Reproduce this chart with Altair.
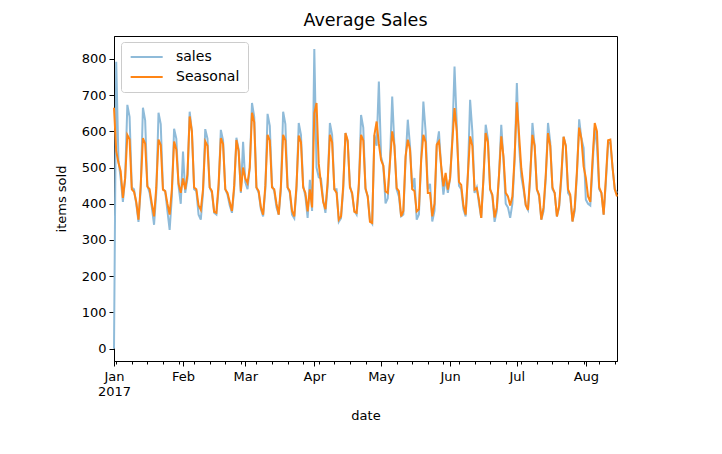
import altair as alt
import pandas as pd

# daily values, 2017-01-01 .. 2017-08-15 (one row per week: Sun..Sat)
sales = [
    0, 792, 520, 470, 405, 470, 673,
    640, 445, 440, 400, 350, 440, 665,
    630, 450, 430, 390, 342, 430, 651,
    620, 440, 435, 380, 328, 420, 607,
    580, 450, 400, 544, 430, 470, 654,
    600, 440, 435, 370, 356, 430, 606,
    580, 445, 430, 375, 370, 440, 604,
    575, 440, 425, 395, 375, 440, 582,
    550, 430, 571, 460, 440, 500, 678,
    640, 445, 430, 385, 365, 440, 648,
    615, 450, 435, 390, 370, 440, 654,
    620, 445, 430, 370, 360, 440, 623,
    590, 450, 420, 361, 466, 380, 827,
    500, 473, 470, 410, 375, 450, 623,
    590, 440, 440, 350, 360, 440, 595,
    570, 450, 425, 380, 370, 440, 645,
    610, 440, 420, 355, 345, 590, 560,
    737, 530, 505, 401, 415, 520, 696,
    560, 440, 420, 365, 370, 520, 632,
    560, 440, 471, 356, 370, 520, 682,
    600, 440, 455, 351, 380, 558, 600,
    500, 425, 470, 430, 470, 580, 779,
    620, 450, 440, 385, 365, 480, 687,
    600, 430, 445, 400, 361, 470, 618,
    580, 440, 420, 350, 380, 480, 618,
    520, 400, 390, 361, 400, 520, 733,
    560, 475, 440, 395, 383, 470, 623,
    560, 440, 420, 356, 380, 470, 623,
    570, 440, 430, 365, 390, 470, 585,
    560, 430, 420, 351, 380, 480, 633,
    580, 554, 411, 400, 395, 500, 610,
    560, 440, 430, 370, 460, 565, 570,
    500, 440, 430,
]
seasonal = [
    665, 545, 513, 490, 416, 470, 590,
    578, 440, 433, 405, 356, 450, 581,
    566, 447, 440, 400, 365, 445, 577,
    562, 439, 435, 400, 370, 440, 572,
    550, 455, 430, 470, 440, 480, 641,
    600, 445, 440, 395, 383, 440, 572,
    560, 445, 435, 378, 375, 455, 581,
    565, 440, 430, 405, 380, 450, 576,
    545, 434, 500, 470, 457, 500, 651,
    625, 445, 435, 390, 370, 450, 590,
    575, 445, 440, 400, 370, 450, 590,
    575, 445, 435, 380, 365, 450, 588,
    570, 445, 430, 379, 440, 390, 650,
    678, 510, 455, 405, 385, 460, 590,
    570, 440, 430, 356, 365, 450, 595,
    575, 445, 430, 378, 375, 455, 590,
    575, 443, 420, 350, 347, 590, 627,
    565, 521, 505, 434, 430, 515, 600,
    560, 443, 435, 365, 380, 530, 577,
    550, 440, 435, 379, 385, 520, 590,
    570, 430, 430, 365, 400, 563, 572,
    505, 448, 485, 439, 470, 570, 664,
    600, 460, 452, 395, 370, 480, 586,
    560, 439, 443, 410, 361, 470, 595,
    570, 440, 425, 362, 390, 480, 586,
    530, 430, 420, 395, 420, 530, 680,
    590, 498, 450, 397, 383, 480, 590,
    560, 440, 425, 356, 390, 480, 595,
    560, 445, 430, 365, 395, 480, 585,
    560, 440, 425, 351, 390, 490, 610,
    580, 503, 471, 420, 405, 520, 623,
    600, 445, 430, 370, 470, 575, 577,
    500, 440, 420,
]

series_names = ["sales", "Seasonal"]
series_colors = ["#8fbbd9", "#ff8515"]
y_ticks = [0, 100, 200, 300, 400, 500, 600, 700, 800]
start_date = "2017-01-01"
end_date = "2017-08-15"

n = len(sales)
date_strings = list(pd.date_range(start_date, periods=n, freq="D").strftime("%Y-%m-%d"))
df = pd.DataFrame({
    "date": date_strings * 2,
    "value": sales + seasonal,
    "series": [series_names[0]] * n + [series_names[1]] * n,
})


def dt(ts):
    return alt.DateTime(year=ts.year, month=ts.month, date=ts.day, utc=True)


major_ticks = [dt(t) for t in pd.date_range(start_date, end_date, freq="MS")]
minor_ticks = [dt(t) for t in pd.date_range("2017-01-02", end_date, freq="7D")]

x_scale = alt.Scale(type="utc", domain=[dt(pd.Timestamp(start_date)), dt(pd.Timestamp(end_date))], nice=False)
y_scale = alt.Scale(domain=[-34, 863], nice=False, zero=False)

x_major = alt.X(
    "date:T",
    scale=x_scale,
    axis=alt.Axis(
        values=major_ticks,
        labelExpr="utcmonth(datum.value) == 0 ? ['Jan', '2017'] : utcFormat(datum.value, '%b')",
        title="date",
        orient="bottom",
        tickSize=5,
        labelPadding=4,
        titlePadding=11,
        labelAngle=0,
        labelFlush=False,
        labelOverlap=False,
    ),
)
x_none = alt.X("date:T", scale=x_scale, axis=None)
x_minor = alt.X(
    "date:T",
    scale=x_scale,
    axis=alt.Axis(
        values=minor_ticks,
        labels=False,
        title=None,
        orient="bottom",
        tickSize=3,
        domain=False,
    ),
)
y_enc = alt.Y(
    "value:Q",
    scale=y_scale,
    axis=alt.Axis(values=y_ticks, title="items sold", tickSize=5, labelPadding=3, titlePadding=13),
)
color_enc = alt.Color(
    "series:N",
    scale=alt.Scale(domain=series_names, range=series_colors),
    sort=series_names,
    legend=alt.Legend(
        title=None,
        orient="none",
        legendX=7,
        legendY=6,
        symbolType="M-1,0H5",
        symbolSize=114,
        symbolStrokeWidth=2,
        symbolOpacity=1,
        labelOffset=33,
        labelFontSize=14,
        labelFont="DejaVu Sans",
        labelColor="black",
        padding=8,
        rowPadding=6,
        strokeColor="#cccccc",
        fillColor="rgba(255,255,255,0.8)",
        cornerRadius=3,
    ),
)

base = alt.Chart(df)
line_sales = base.transform_filter(alt.datum.series == series_names[0]).mark_line(strokeWidth=2).encode(
    x=x_major, y=y_enc, color=color_enc
)
line_seasonal = base.transform_filter(alt.datum.series == series_names[1]).mark_line(strokeWidth=2).encode(
    x=x_none, y=y_enc, color=color_enc
)
minor_layer = base.transform_filter(alt.datum.series == series_names[0]).mark_line(opacity=0).encode(
    x=x_minor, y=y_enc
)

chart = (
    alt.layer(line_sales, line_seasonal, minor_layer)
    .resolve_axis(x="independent")
    .properties(
        width=503,
        height=325,
        title=alt.Title(
            "Average Sales", fontSize=17.5, fontWeight="normal", font="DejaVu Sans",
            color="black", anchor="middle", offset=7,
        ),
        autosize=alt.AutoSizeParams(type="none"),
        padding={"left": 106, "top": 28, "right": 97, "bottom": 85},
    )
    .configure_view(stroke="black", strokeWidth=1)
    .configure_axis(
        labelFont="DejaVu Sans",
        titleFont="DejaVu Sans",
        labelFontSize=13,
        titleFontSize=13,
        titleFontWeight="normal",
        labelColor="black",
        titleColor="black",
        domainColor="black",
        tickColor="black",
        grid=False,
    )
)

chart.save("out.html", embed_options={"renderer": "svg", "actions": False})
